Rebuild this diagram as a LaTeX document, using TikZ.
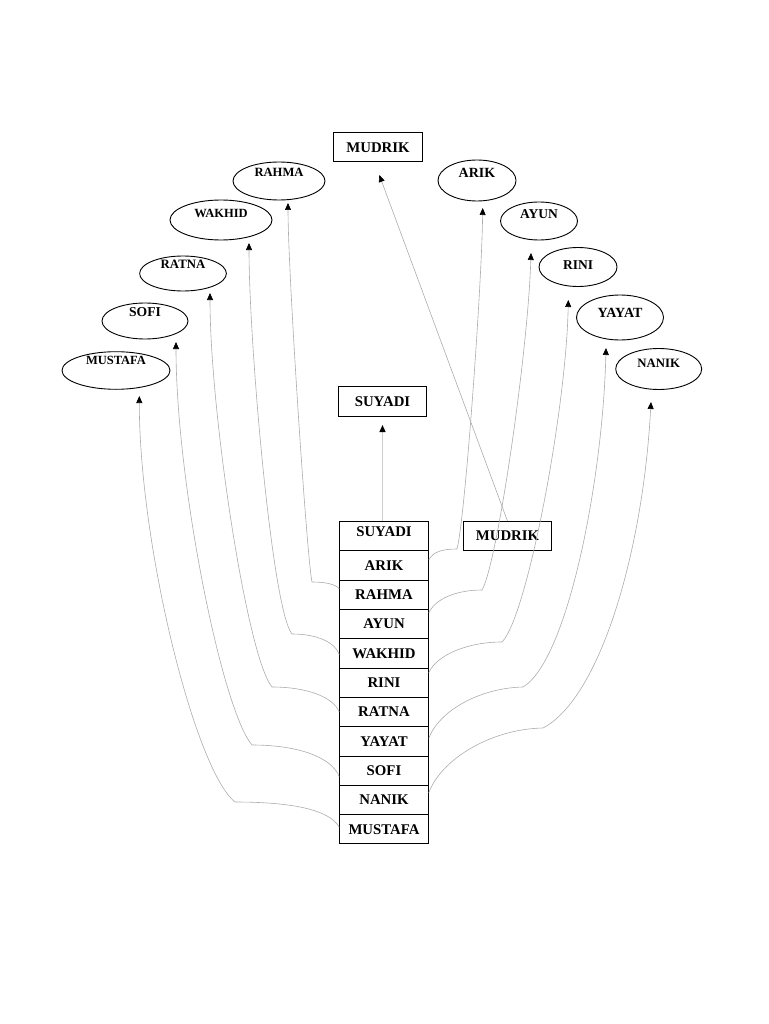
\documentclass[tikz,border=0pt]{standalone}
\usepackage{fontspec}
\setmainfont{Liberation Serif}
\usetikzlibrary{shapes.geometric,arrows.meta}
\begin{document}
\begin{tikzpicture}[x=1pt,y=-1pt,
  box/.style={draw=black,line width=0.9pt,rectangle,minimum width=88.6pt,minimum height=29.3pt,inner sep=0pt,font=\fontsize{14.8}{16}\selectfont\bfseries},
  ell/.style={draw=black,line width=0.9pt,ellipse,inner sep=0pt},
  conn/.style={draw=gray!65,line width=0.6pt,-{Triangle[length=7pt,width=6pt,color=black]}},
]
\useasboundingbox (0,0) rectangle (768,1024);

% stack
\node[box] (sSUYADI)  at (384,536.2) {\raisebox{5pt}[\height][\depth]{SUYADI}};
\node[box] (sARIK)    at (384,565.5) {ARIK};
\node[box] (sRAHMA)   at (384,594.8) {RAHMA};
\node[box] (sAYUN)    at (384,624.1) {AYUN};
\node[box] (sWAKHID)  at (384,653.4) {WAKHID};
\node[box] (sRINI)    at (384,682.7) {RINI};
\node[box] (sRATNA)   at (384,712.0) {RATNA};
\node[box] (sYAYAT)   at (384,741.3) {YAYAT};
\node[box] (sSOFI)    at (384,770.6) {SOFI};
\node[box] (sNANIK)   at (384,799.9) {NANIK};
\node[box] (sMUSTAFA) at (384,829.2) {MUSTAFA};

% other boxes
\node[box,minimum width=89.4pt] (mTop) at (378,147.3) {MUDRIK};
\node[box,minimum width=88.4pt] (uTop) at (382.5,401.3) {SUYADI};
\node[box,minimum width=88.4pt] (mLow) at (507.5,536.2) {MUDRIK};

% ellipses left
\node[ell,minimum width=92pt,minimum height=38pt,font=\fontsize{12.6}{14}\selectfont\bfseries] (eRAHMA) at (279,181) {\raisebox{9pt}[\height][\depth]{RAHMA}};
\node[ell,minimum width=102pt,minimum height=40pt,font=\fontsize{12.5}{14}\selectfont\bfseries] (eWAKHID) at (221,220) {\raisebox{7pt}[\height][\depth]{WAKHID}};
\node[ell,minimum width=86.7pt,minimum height=35pt,font=\fontsize{12.8}{14}\selectfont\bfseries] (eRATNA) at (183,273.5) {\raisebox{9.5pt}[\height][\depth]{RATNA}};
\node[ell,minimum width=86pt,minimum height=36pt,font=\fontsize{13.6}{15}\selectfont\bfseries] (eSOFI) at (145,321) {\raisebox{9pt}[\height][\depth]{SOFI}};
\node[ell,minimum width=108pt,minimum height=37.6pt,font=\fontsize{12.5}{14}\selectfont\bfseries] (eMUSTAFA) at (116,370.5) {\raisebox{10.5pt}[\height][\depth]{MUSTAFA}};
% ellipses right
\node[ell,minimum width=78pt,minimum height=41pt,font=\fontsize{14}{15}\selectfont\bfseries] (eARIK) at (477,180.5) {\raisebox{8pt}[\height][\depth]{ARIK}};
\node[ell,minimum width=77pt,minimum height=38pt,font=\fontsize{13.5}{15}\selectfont\bfseries] (eAYUN) at (539,221) {\raisebox{7pt}[\height][\depth]{AYUN}};
\node[ell,minimum width=78pt,minimum height=39pt,font=\fontsize{13.5}{15}\selectfont\bfseries] (eRINI) at (578,267) {\raisebox{2pt}[\height][\depth]{RINI}};
\node[ell,minimum width=87pt,minimum height=45pt,font=\fontsize{14}{15}\selectfont\bfseries] (eYAYAT) at (620,317.5) {\raisebox{5pt}[\height][\depth]{YAYAT}};
\node[ell,minimum width=86pt,minimum height=41pt,font=\fontsize{12.8}{14}\selectfont\bfseries] (eNANIK) at (658.7,369) {\raisebox{6pt}[\height][\depth]{NANIK}};

% arrow tip coordinates
\coordinate (tRAHMA) at (288,203);
\coordinate (tWAKHID) at (249,243);
\coordinate (tRATNA) at (210,293);
\coordinate (tSOFI) at (176,342);
\coordinate (tMUSTAFA) at (139.3,396);
\coordinate (tARIK) at (482.7,208);
\coordinate (tAYUN) at (531,253);
\coordinate (tRINI) at (568.3,300);
\coordinate (tYAYAT) at (606,348);
\coordinate (tNANIK) at (651,402);
\coordinate (tMUDRIK) at (379.3,175);
\coordinate (tSUYADI) at (382.5,425);

% bend coordinates
\coordinate (bRAHMA) at (312,582);
\coordinate (bWAKHID) at (292,634);
\coordinate (bRATNA) at (272,687);
\coordinate (bSOFI) at (252,745);
\coordinate (bMUSTAFA) at (235,802);
\coordinate (bARIK) at (457,549);
\coordinate (bAYUN) at (482,590);
\coordinate (bRINI) at (502,642);
\coordinate (bYAYAT) at (523,687);
\coordinate (bNANIK) at (543,728);

% straight connectors
\draw[conn,line width=1.2pt,draw=gray!40] (tSUYADI |- sSUYADI.north) -- (tSUYADI);
\draw[conn] (mLow.north) -- (tMUDRIK);

% left curves
\draw[conn] ([yshift=6pt]sRAHMA.west) .. controls +(-4,-5) and +(12,0) .. (bRAHMA) .. controls +(-5,-22) and +(0,70) .. (tRAHMA);
\draw[conn] ([yshift=-1pt]sWAKHID.west) .. controls +(-4,-12) and +(25,0) .. (bWAKHID) .. controls +(-20,-24) and +(0,100) .. (tWAKHID);
\draw[conn] (sRATNA.west) .. controls +(-6,-15) and +(35,0) .. (bRATNA) .. controls +(-25,-30) and +(0,120) .. (tRATNA);
\draw[conn] ([yshift=-6pt]sSOFI.west) .. controls +(-8,-20) and +(45,0) .. (bSOFI) .. controls +(-30,-35) and +(0,140) .. (tSOFI);
\draw[conn] ([yshift=2pt]sMUSTAFA.west) .. controls +(-10,-18) and +(55,0) .. (bMUSTAFA) .. controls +(-40,-32) and +(0,150) .. (tMUSTAFA);

% right curves
\draw[conn] ([yshift=5.5pt]sARIK.east) .. controls +(4,-8) and +(-15,0) .. (bARIK) .. controls +(8,-30) and +(-1,80) .. (tARIK);
\draw[conn] ([yshift=11pt]sAYUN.east) .. controls +(6,-14) and +(-26,0) .. (bAYUN) .. controls +(15,-25) and +(-3,100) .. (tAYUN);
\draw[conn] ([yshift=10pt]sRINI.east) .. controls +(8,-18) and +(-34,0) .. (bRINI) .. controls +(25,-25) and +(-2,110) .. (tRINI);
\draw[conn] ([yshift=3pt]sYAYAT.east) .. controls +(10,-27) and +(-44,1) .. (bYAYAT) .. controls +(45,-27) and +(-3,130) .. (tYAYAT);
\draw[conn] ([yshift=7pt]sNANIK.east) .. controls +(12,-33) and +(-53,1) .. (bNANIK) .. controls +(57,-30) and +(-8,150) .. (tNANIK);
\end{tikzpicture}
\end{document}
